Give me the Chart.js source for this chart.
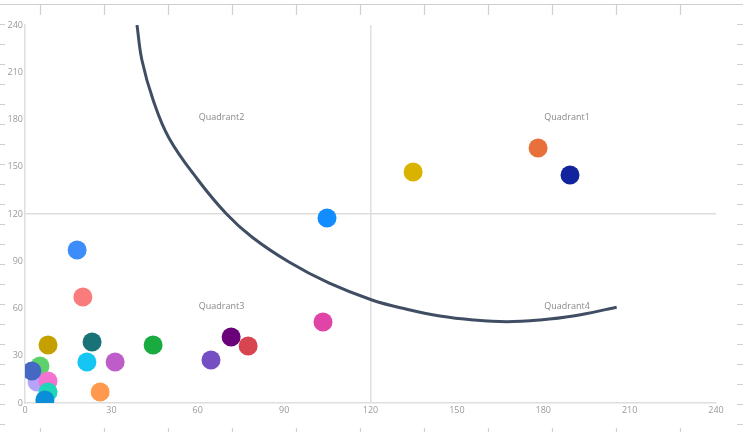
<!DOCTYPE html>
<html>
<head>
<meta charset="utf-8">
<script src="https://cdn.jsdelivr.net/npm/chart.js@4/dist/chart.umd.min.js"></script>
<style>
html,body{margin:0;padding:0;background:#fff}
#wrap{width:743px;height:432px;position:relative}
</style>
</head>
<body>
<div id="wrap"><canvas id="quadChart"></canvas></div>
<script>

/* DATA */

const xTicks=[0,30,60,90,120,150,180,210,240]
const yTicks=[0,30,60,90,120,150,180,210,240]

const pointX=[178.2,189.3,134.8,104.9,18.1,20.1,103.5,71.6,77.5,64.6,44.5,23.3,21.5,31.3,26.1,8.0,5.2,4.2,8.0,8.0,2.4,6.9]
const pointY=[161.9,144.8,146.7,117.5,97.1,67.3,51.4,41.9,36.2,27.3,36.8,38.7,26.0,26.0,7.0,36.8,23.5,13.3,14.0,7.0,20.3,1.9]
const pointColors=["#E8703A","#12239E","#D9B300","#118DFF","#3C8DFA","#FA7B7B","#E044A7","#6B007B","#D64550","#744EC2","#1AAB40","#197278","#15C6F4","#BE5DC9","#FF994E","#C4A000","#5ED26A","#B6A3FA","#F472D0","#1ED6B8","#4668C5","#0A8ED8"]

const curveX=[38.9,40.6,44.5,50.0,60.1,70.0,78.8,91.7,105.5,120.5,132.6,144.1,155.7,167.3,178.9,190.4,205.5]
const curveY=[240,217.8,192.4,168.3,141.6,120.0,105.4,89.5,76.2,65.4,59.5,55.2,52.7,51.6,52.7,55.2,60.8]

const quadrantLabels=["Quadrant1","Quadrant2","Quadrant3","Quadrant4"]
const quadrantX=[180,60,60,180]
const quadrantY=[180,180,60,60]

const divider=120


/* BUILD POINTS */

const bubbles=pointX.map((x,i)=>({x:x,y:pointY[i]}))
const curve=curveX.map((x,i)=>({x:x,y:curveY[i]}))


/* FRAME + LABELS PLUGIN */

const framePlugin={
id:"frame",
beforeDraw(chart){
const c=chart.ctx
c.save()
c.strokeStyle="#cfcfcf"
c.lineWidth=1.2
c.beginPath()
c.moveTo(0,4.5);c.lineTo(743,4.5)
for(let x=40;x<=680;x+=64){
c.moveTo(x+0.5,4);c.lineTo(x+0.5,15)
c.moveTo(x+0.5,428);c.lineTo(x+0.5,432)
}
for(let y=24;y<=424;y+=20){
c.moveTo(0,y+0.5);c.lineTo(5,y+0.5)
c.moveTo(737,y+0.5);c.lineTo(743,y+0.5)
}
c.stroke()
c.restore()
},
afterDatasetsDraw(chart){
const c=chart.ctx
const xs=chart.scales.x
const ys=chart.scales.y
c.save()
c.font="9px 'Open Sans'"
c.fillStyle="#8a8a8a"
c.textAlign="left"
c.textBaseline="middle"
quadrantLabels.forEach((t,i)=>{
c.fillText(t,xs.getPixelForValue(quadrantX[i])+1,ys.getPixelForValue(quadrantY[i])-2)
})
c.restore()
}
}


/* CHART */

const gridColor=(ctx)=>ctx.tick && ctx.tick.value===divider ? "#dedede" : "rgba(0,0,0,0)"

const ctx=document.getElementById("quadChart").getContext("2d")

const quadChart=new Chart(ctx,{

type:"scatter",

data:{
datasets:[{
type:"line",
data:curve,
borderColor:"#404E64",
borderWidth:3,
pointRadius:0,
fill:false,
tension:0.4,
order:2
},{
data:bubbles,
backgroundColor:pointColors,
borderWidth:0,
pointRadius:9.5,
pointHoverRadius:9.5,
order:1
}]
},

options:{
responsive:true,
maintainAspectRatio:false,
animation:false,
events:[],
layout:{padding:{left:0,top:25,right:27,bottom:0}},
plugins:{
legend:{display:false},
tooltip:{enabled:false}
},
scales:{
x:{
type:"linear",
min:0,max:240,
afterBuildTicks(s){s.ticks=xTicks.map(v=>({value:v}))},
afterFit(s){s.height=29},
grid:{color:gridColor,lineWidth:1.5,drawTicks:false},
border:{display:true,color:"#dedede",width:1.5},
ticks:{color:"#9a9a9a",font:{family:"Open Sans",size:9},padding:2,autoSkip:false,maxRotation:0}
},
y:{
type:"linear",
min:0,max:240,
afterBuildTicks(s){s.ticks=yTicks.map(v=>({value:v}))},
afterFit(s){s.width=25},
grid:{color:gridColor,lineWidth:1.5,drawTicks:false},
border:{display:true,color:"#dedede",width:1.5},
ticks:{color:"#9a9a9a",font:{family:"Open Sans",size:9},padding:2}
}
}
},

plugins:[framePlugin]

})

</script>
</body>
</html>
